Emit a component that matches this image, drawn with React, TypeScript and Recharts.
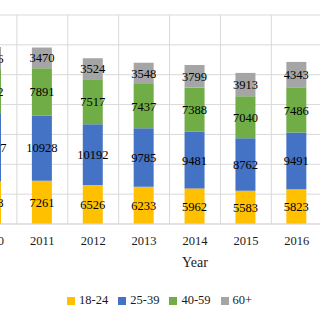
import React from 'react';
import { BarChart, Bar, XAxis, YAxis, CartesianGrid, Legend, LabelList } from 'recharts';

// Enrolments per year, split by age group
const years = ['2010', '2011', '2012', '2013', '2014', '2015', '2016', '2017', '2018'];
const age18to24: (number | null)[] = [7108, 7261, 6526, 6233, 5962, 5583, 5823, null, null];
const age25to39: (number | null)[] = [11327, 10928, 10192, 9785, 9481, 8762, 9491, null, null];
const age40to59: (number | null)[] = [7362, 7891, 7517, 7437, 7388, 7040, 7486, null, null];
const age60plus: (number | null)[] = [3856, 3470, 3524, 3548, 3799, 3913, 4343, null, null];
const yTicks = [0, 5000, 10000, 15000, 20000, 25000, 30000, 35000];

const data = years.map((year, i) => ({
  year,
  a: age18to24[i],
  b: age25to39[i],
  c: age40to59[i],
  d: age60plus[i],
}));

const FONT = '"Liberation Serif", "Times New Roman", serif';
const GRID = '#D9D9D9';

const series = [
  { key: 'a', name: '18-24', color: '#FFC000' },
  { key: 'b', name: '25-39', color: '#4472C4' },
  { key: 'c', name: '40-59', color: '#70AD47' },
  { key: 'd', name: '60+', color: '#A5A5A5' },
];

const CHART_LEFT = -109.4;

export default function App() {
  return (
    <div style={{ position: 'absolute', left: 0, top: 0, width: 320, height: 320, overflow: 'hidden', background: '#fff' }}>
      <div style={{ position: 'absolute', left: CHART_LEFT, top: 0 }}>
        <BarChart
          width={543}
          height={320}
          data={data}
          margin={{ top: 15, right: 10, left: 15, bottom: 0 }}
          barSize={20}
        >
          <CartesianGrid
            stroke={GRID}
            verticalCoordinatesGenerator={({ offset }: any) =>
              years.map((_, i) => offset.left + (i * offset.width) / years.length).concat(offset.left + offset.width)
            }
          />
          <XAxis
            dataKey="year"
            height={96}
            axisLine={{ stroke: GRID }}
            tickLine={false}
            tickMargin={6}
            tick={{ fontFamily: FONT, fontSize: 12.5, fill: '#1a1a1a' }}
            label={{ value: 'Year', position: 'insideTop', offset: 33, fontFamily: FONT, fontSize: 14, fill: '#1a1a1a' }}
          />
          <YAxis
            width={60}
            domain={[0, 35000]}
            ticks={yTicks}
            axisLine={false}
            tickLine={false}
            tick={{ fontFamily: FONT, fontSize: 12.5, fill: '#1a1a1a' }}
          />
          <Legend
            verticalAlign="middle"
            iconType="square"
            iconSize={8}
            wrapperStyle={{ top: 293, left: 114, width: 320, fontFamily: FONT, fontSize: 12.5 }}
            formatter={(value: string) => <span style={{ color: '#1a1a1a' }}>{value}</span>}
          />
          {series.map((s) => (
            <Bar key={s.key} dataKey={s.key} name={s.name} stackId="age" fill={s.color} isAnimationActive={false}>
              <LabelList dataKey={s.key} position="center" fill="#000" fontSize={12.5} fontFamily={FONT} />
            </Bar>
          ))}
        </BarChart>
      </div>
    </div>
  );
}
